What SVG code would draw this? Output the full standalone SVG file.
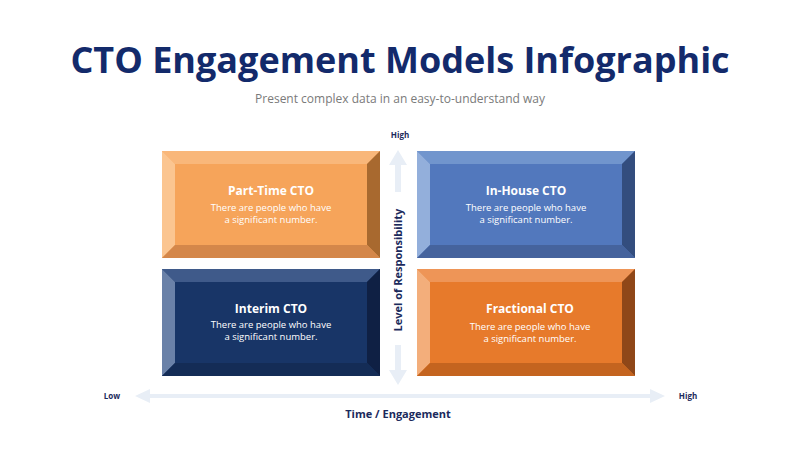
<svg xmlns="http://www.w3.org/2000/svg" width="800" height="450" viewBox="0 0 800 450">
<style>
text{font-family:"Open Sans","Liberation Sans",sans-serif}
.h{font-weight:bold;font-size:12px;fill:#fff;text-anchor:middle}
.d{font-size:9.5px;fill:#fff;text-anchor:middle}
.ax{font-weight:bold;font-size:8px;fill:#1b2a5c;text-anchor:middle}
</style>
<rect width="800" height="450" fill="#fff"/>
<text x="400" y="73" text-anchor="middle" style="font-weight:bold;font-size:36px;fill:#132a6b">CTO Engagement Models Infographic</text>
<text x="400" y="103" text-anchor="middle" style="font-size:12px;fill:#7a7a7a">Present complex data in an easy-to-understand way</text>
<g id="connectors" fill="#e8eef6">
<polygon points="398,150 407,165 401,165 401,192 395,192 395,165 389,165"/>
<polygon points="398,385 407,370 401,370 401,345 395,345 395,370 389,370"/>
<polygon points="135,396 150,389 150,394 650,394 650,389 665,396 650,403 650,398 150,398 150,403"/>
</g>
<g id="n1">
<rect x="162" y="151" width="218" height="107" fill="#f6a45a"/>
<polygon points="162,151 380,151 367,164 175,164" fill="#f9b77a"/>
<polygon points="162,151 175,164 175,245 162,258" fill="#fbc590"/>
<polygon points="380,151 380,258 367,245 367,164" fill="#a8692f"/>
<polygon points="162,258 380,258 367,245 175,245" fill="#d4874a"/>
<text class="h" x="271" y="195">Part-Time CTO</text>
<text class="d" x="271" y="211">There are people who have</text>
<text class="d" x="271" y="223">a significant number.</text>
</g>
<g id="n2">
<rect x="417" y="151" width="218" height="107" fill="#5278bd"/>
<polygon points="417,151 635,151 622,164 430,164" fill="#7195cd"/>
<polygon points="417,151 430,164 430,245 417,258" fill="#93afdb"/>
<polygon points="635,151 635,258 622,245 622,164" fill="#334d7e"/>
<polygon points="417,258 635,258 622,245 430,245" fill="#45639d"/>
<text class="h" x="526" y="195">In-House CTO</text>
<text class="d" x="526" y="211">There are people who have</text>
<text class="d" x="526" y="223">a significant number.</text>
</g>
<g id="n3">
<rect x="162" y="269" width="218" height="107" fill="#183567"/>
<polygon points="162,269 380,269 367,282 175,282" fill="#3f5a8a"/>
<polygon points="162,269 175,282 175,363 162,376" fill="#6a81a8"/>
<polygon points="380,269 380,376 367,363 367,282" fill="#0f2044"/>
<polygon points="162,376 380,376 367,363 175,363" fill="#142c56"/>
<text class="h" x="271" y="313">Interim CTO</text>
<text class="d" x="271" y="328">There are people who have</text>
<text class="d" x="271" y="340">a significant number.</text>
</g>
<g id="n4">
<rect x="417" y="269" width="218" height="107" fill="#e77a2b"/>
<polygon points="417,269 635,269 622,282 430,282" fill="#ee9557"/>
<polygon points="417,269 430,282 430,363 417,376" fill="#f3ae7b"/>
<polygon points="635,269 635,376 622,363 622,282" fill="#8f4718"/>
<polygon points="417,376 635,376 622,363 430,363" fill="#c4641f"/>
<text class="h" x="530" y="313">Fractional CTO</text>
<text class="d" x="530" y="330">There are people who have</text>
<text class="d" x="530" y="342">a significant number.</text>
</g>
<text class="ax" x="400" y="138">High</text>
<text class="ax" x="112" y="399">Low</text>
<text class="ax" x="688" y="399">High</text>
<text x="398" y="274" transform="rotate(-90 398 270)" text-anchor="middle" style="font-weight:bold;font-size:11px;fill:#1b2a5c">Level of Responsibility</text>
<text x="398" y="418" text-anchor="middle" style="font-weight:bold;font-size:11px;fill:#1b2a5c">Time / Engagement</text>
</svg>
